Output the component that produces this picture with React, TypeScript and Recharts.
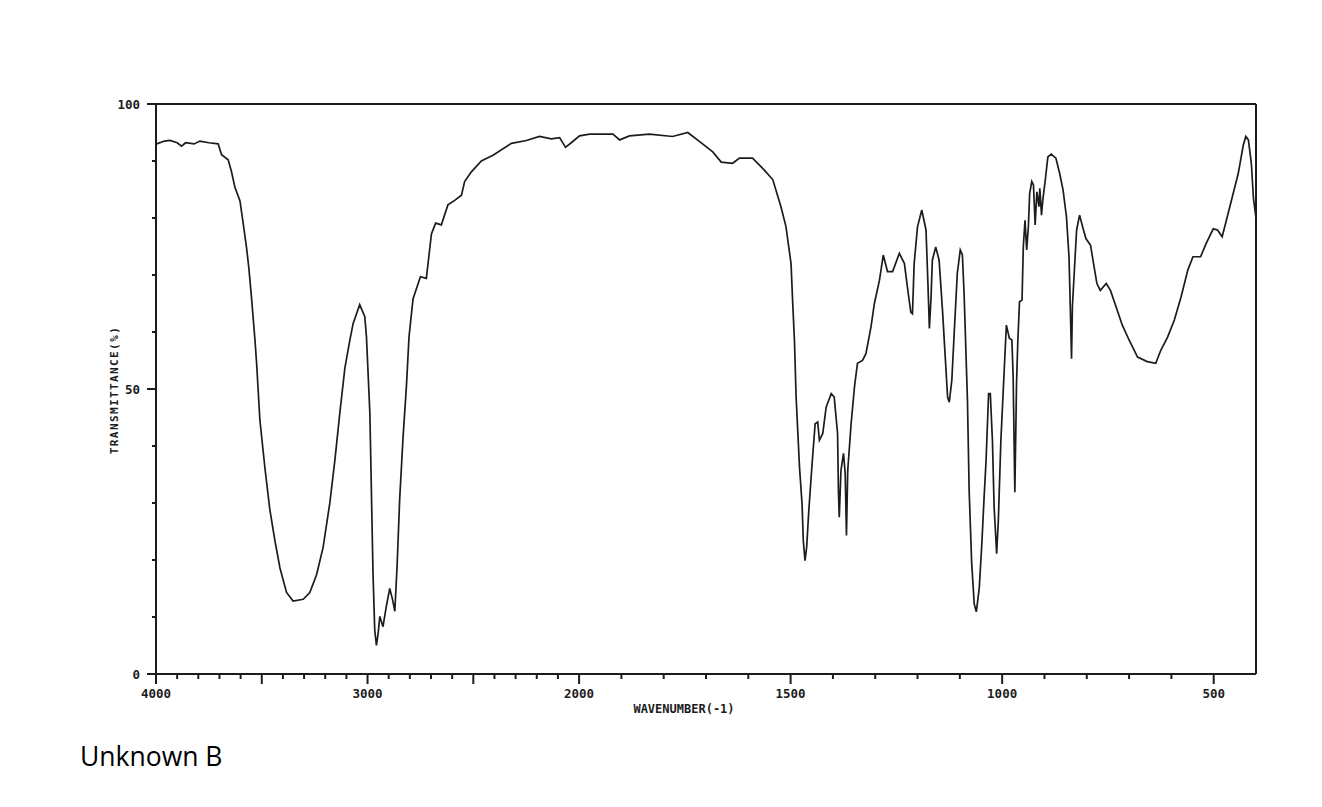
import React from 'react';
import { LineChart, Line, XAxis, YAxis, ReferenceLine, Label } from 'recharts';

// Wavenumbers (cm-1) and transmittance (%)
const wavenumbers = [
  3997, 3960, 3934, 3900, 3879, 3860, 3820, 3792, 3750, 3706,
  3690, 3659, 3643, 3627, 3603, 3588, 3572, 3561, 3548, 3532,
  3524, 3509, 3485, 3462, 3438, 3414, 3383, 3352, 3304, 3273,
  3241, 3210, 3178, 3155, 3131, 3107, 3084, 3068, 3037, 3013,
  3005, 2989, 2981, 2974, 2966, 2958, 2950, 2942, 2927, 2911,
  2895, 2882, 2871, 2860, 2848, 2832, 2816, 2804, 2785, 2769,
  2750, 2722, 2698, 2678, 2651, 2620, 2588, 2556, 2541, 2509,
  2462, 2407, 2320, 2249, 2187, 2131, 2092, 2064, 2037, 1999,
  1975, 1920, 1904, 1881, 1834, 1779, 1743, 1715, 1684, 1664,
  1637, 1621, 1590, 1562, 1542, 1523, 1511, 1499, 1495, 1491,
  1487, 1479, 1473, 1470, 1466, 1462, 1457, 1452, 1448, 1442,
  1436, 1432, 1424, 1416, 1404, 1397, 1389, 1387, 1385, 1381,
  1375, 1371, 1368, 1365, 1357, 1349, 1342, 1330, 1322, 1310,
  1302, 1290, 1281, 1271, 1259, 1243, 1231, 1224, 1216, 1212,
  1208, 1200, 1190, 1180, 1176, 1172, 1168, 1165, 1157, 1149,
  1141, 1135, 1129, 1125, 1119, 1113, 1106, 1099, 1094, 1090,
  1082, 1078, 1072, 1066, 1061, 1054, 1048, 1043, 1038, 1032,
  1028, 1023, 1019, 1013, 1009, 1003, 995, 990, 983, 977,
  974, 970, 966, 963, 959, 953, 950, 946, 942, 938,
  935, 930, 926, 922, 918, 913, 911, 907, 904, 898,
  892, 884, 873, 864, 856, 848, 842, 838, 836, 834,
  828, 824, 817, 810, 802, 791, 784, 776, 768, 754,
  744, 732, 716, 700, 680, 657, 637, 625, 609, 593,
  577, 561, 549, 531, 518, 501, 491, 480, 470, 458,
  442, 430, 424, 418, 411, 406, 400,
];

const transmittance = [
  93.0, 93.5, 93.6, 93.2, 92.6, 93.2, 93.0, 93.5, 93.2, 93.0,
  91.1, 90.2, 88.1, 85.4, 83.0, 79.1, 74.8, 71.2, 65.8, 58.5,
  54.3, 44.6, 36.1, 28.9, 23.4, 18.6, 14.3, 12.8, 13.1, 14.3,
  17.4, 22.2, 30.1, 37.3, 45.8, 53.7, 58.5, 61.5, 64.8, 62.7,
  59.1, 45.8, 30.7, 17.4, 7.7, 5.0, 7.1, 10.1, 8.3, 11.9,
  15.0, 13.1, 11.0, 19.2, 30.7, 41.6, 50.6, 59.1, 65.8, 67.6,
  69.7, 69.4, 77.2, 79.1, 78.8, 82.3, 83.1, 84.0, 86.4, 88.1,
  90.0, 91.0, 93.1, 93.6, 94.3, 93.9, 94.1, 92.4, 93.2, 94.4,
  94.7, 94.7, 93.7, 94.4, 94.7, 94.3, 95.0, 93.4, 91.6, 89.8,
  89.6, 90.5, 90.5, 88.4, 86.7, 82.0, 78.5, 72.0, 65.0, 58.6,
  48.6, 36.3, 29.9, 23.4, 19.9, 22.3, 28.7, 34.0, 38.1, 43.9,
  44.2, 41.0, 42.2, 46.8, 49.2, 48.6, 42.2, 32.2, 27.5, 35.7,
  38.7, 35.2, 24.3, 35.7, 43.9, 50.4, 54.5, 55.0, 56.2, 60.9,
  65.0, 69.1, 73.5, 70.6, 70.6, 73.8, 72.0, 67.9, 63.5, 63.2,
  72.0, 78.5, 81.4, 77.9, 69.7, 60.6, 66.2, 72.6, 74.9, 72.6,
  63.8, 56.2, 48.6, 47.7, 51.5, 60.3, 70.3, 74.4, 73.5, 66.8,
  48.0, 32.2, 19.4, 12.3, 10.9, 15.2, 22.9, 30.5, 37.5, 49.2,
  49.2, 41.0, 29.3, 21.1, 27.0, 41.0, 53.5, 61.2, 58.9, 58.6,
  52.1, 31.9, 51.0, 58.3, 65.3, 65.6, 74.9, 79.6, 74.4, 78.5,
  84.3, 86.4, 85.8, 78.8, 84.6, 82.0, 85.2, 80.5, 83.1, 86.7,
  90.7, 91.2, 90.5, 87.8, 84.9, 80.2, 73.2, 61.5, 55.3, 64.4,
  72.6, 77.9, 80.5, 78.5, 76.4, 75.2, 72.0, 68.5, 67.3, 68.5,
  67.3, 64.7, 61.2, 58.6, 55.6, 54.8, 54.5, 56.8, 59.1, 62.1,
  66.2, 70.9, 73.2, 73.2, 75.5, 78.1, 77.9, 76.7, 79.6, 83.1,
  87.8, 92.8, 94.3, 93.7, 89.6, 83.4, 80.0,
];

const xTickWavenumbers = [
  4000, 3900, 3800, 3700, 3600, 3500, 3400, 3300, 3200, 3100,
  3000, 2900, 2800, 2700, 2600, 2500, 2400, 2300, 2200, 2100,
  2000, 1900, 1800, 1700, 1600, 1500, 1400, 1300, 1200, 1100,
  1000, 900, 800, 700, 600, 500,
];
const xMajorTicks = [4000, 3500, 3000, 2500, 2000, 1500, 1000, 500];
const xLabeledTicks = [4000, 3000, 2000, 1500, 1000, 500];

const yTicks = [0, 10, 20, 30, 40, 50, 60, 70, 80, 90, 100];
const yLabeledTicks = [0, 50, 100];

// The instrument chart changes scale at 2000 cm-1 (twice as wide below it)
const toAxis = (w: number) => (w >= 2000 ? (4000 - w) / 2 : 1000 + (2000 - w));
const fromAxis = (u: number) => Math.round(u <= 1000 ? 4000 - 2 * u : 2000 - (u - 1000));

const data = wavenumbers.map((w, i) => ({ w, t: transmittance[i] }));

const INK = '#1c1c1c';
const PIXEL_FONT = '"DejaVu Sans Mono", monospace';

const XTick = (props: any) => {
  const { x, y, payload } = props;
  const w = fromAxis(payload.value);
  const major = xMajorTicks.includes(w);
  const labeled = xLabeledTicks.includes(w);
  return (
    <g>
      <line x1={x} x2={x} y1={y} y2={y + (major ? 10 : 5)} stroke={INK} strokeWidth={2} />
      {labeled && (
        <text x={x} y={y + 24} textAnchor="middle" fontFamily={PIXEL_FONT} fontSize={12.5} fontWeight="bold" fill={INK}>
          {w}
        </text>
      )}
    </g>
  );
};

const YTick = (props: any) => {
  const { x, y, payload } = props;
  const v = payload.value;
  const labeled = yLabeledTicks.includes(v);
  return (
    <g>
      <line x1={x - (labeled ? 9 : 4)} x2={x} y1={y} y2={y} stroke={INK} strokeWidth={2} />
      {labeled && (
        <text x={x - 16} y={y + 4.5} textAnchor="end" fontFamily={PIXEL_FONT} fontSize={12.5} fontWeight="bold" fill={INK}>
          {v}
        </text>
      )}
    </g>
  );
};

export default function App() {
  return (
    <div style={{ position: 'absolute', left: 0, top: 0, width: 1322, height: 807, background: '#fff' }}>
      <LineChart
        width={1322}
        height={740}
        data={data}
        margin={{ top: 104, right: 66, bottom: 26, left: 96 }}
      >
        <XAxis
          type="number"
          dataKey={(d: any) => toAxis(d.w)}
          domain={[0, 2600]}
          ticks={xTickWavenumbers.map(toAxis)}
          tick={<XTick />}
          tickLine={false}
          tickSize={0}
          tickMargin={0}
          interval={0}
          height={40}
          axisLine={{ stroke: INK, strokeWidth: 2 }}
          allowDataOverflow
        >
          <Label
            content={() => (
              <text x={684} y={713} textAnchor="middle" fontFamily={PIXEL_FONT} fontSize={12} fontWeight="bold" fill={INK}>
                WAVENUMBER(-1)
              </text>
            )}
          />
        </XAxis>
        <YAxis
          type="number"
          domain={[0, 100]}
          ticks={yTicks}
          tick={<YTick />}
          tickLine={false}
          tickSize={0}
          tickMargin={0}
          interval={0}
          width={60}
          axisLine={{ stroke: INK, strokeWidth: 2 }}
        >
          <Label
            content={() => (
              <text
                x={118}
                y={390}
                transform="rotate(-90 118 390)"
                textAnchor="middle"
                fontFamily={PIXEL_FONT}
                fontSize={11}
                fontWeight="bold"
                letterSpacing={1.4}
                fill={INK}
              >
                TRANSMITTANCE(%)
              </text>
            )}
          />
        </YAxis>
        <ReferenceLine y={100} stroke={INK} strokeWidth={2} ifOverflow="extendDomain" />
        <ReferenceLine x={2600} stroke={INK} strokeWidth={2} ifOverflow="extendDomain" />
        <Line
          type="linear"
          dataKey="t"
          stroke={INK}
          strokeWidth={1.7}
          dot={false}
          isAnimationActive={false}
        />
      </LineChart>
      <div
        style={{
          position: 'absolute',
          left: 80,
          top: 738,
          fontFamily: '"Open Sans", sans-serif',
          fontSize: 26.5,
          color: '#000',
          whiteSpace: 'nowrap',
        }}
      >
        Unknown B
      </div>
    </div>
  );
}
